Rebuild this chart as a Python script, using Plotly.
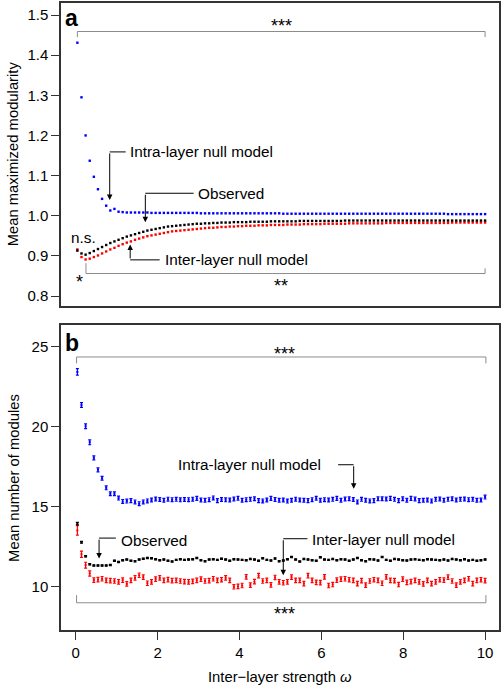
import numpy as np
import plotly.graph_objects as go

# inter-layer strength, 100 values from ~0.04 to 10
omega = np.linspace(0.04, 10.0, 100)

# panel a: mean maximized modularity
mod_intra = [1.431, 1.295, 1.200, 1.137, 1.097, 1.066, 1.042, 1.025, 1.013, 1.017,
             1.010, 1.009, 1.008, 1.008, 1.008, 1.008, 1.008, 1.008, 1.007, 1.007,
             1.007, 1.007, 1.007, 1.007, 1.007, 1.007, 1.007, 1.007, 1.007, 1.007,
             1.006, 1.006, 1.006, 1.006, 1.006, 1.006, 1.006, 1.006, 1.006, 1.006,
             1.006, 1.006, 1.006, 1.006, 1.006, 1.006, 1.006, 1.006, 1.006, 1.006,
             1.005, 1.005, 1.005, 1.005, 1.005, 1.005, 1.005, 1.005, 1.005, 1.005,
             1.005, 1.005, 1.005, 1.005, 1.005, 1.005, 1.005, 1.005, 1.005, 1.005,
             1.005, 1.005, 1.005, 1.005, 1.005, 1.005, 1.005, 1.005, 1.005, 1.005,
             1.005, 1.005, 1.005, 1.005, 1.005, 1.005, 1.005, 1.005, 1.005, 1.005,
             1.004, 1.004, 1.004, 1.004, 1.004, 1.004, 1.004, 1.004, 1.004, 1.004]
mod_obs = [0.913, 0.906, 0.903, 0.907, 0.912, 0.917, 0.922, 0.927, 0.932, 0.936,
           0.940, 0.944, 0.948, 0.951, 0.954, 0.957, 0.960, 0.963, 0.965, 0.967,
           0.969, 0.971, 0.973, 0.974, 0.975, 0.976, 0.977, 0.978, 0.979, 0.980,
           0.980, 0.981, 0.981, 0.982, 0.982, 0.983, 0.983, 0.983, 0.984, 0.984,
           0.984, 0.984, 0.985, 0.985, 0.985, 0.985, 0.985, 0.986, 0.986, 0.986,
           0.986, 0.986, 0.986, 0.986, 0.987, 0.987, 0.987, 0.987, 0.987, 0.987,
           0.987, 0.987, 0.987, 0.987, 0.987, 0.988, 0.988, 0.988, 0.988, 0.988,
           0.988, 0.988, 0.988, 0.988, 0.988, 0.988, 0.988, 0.988, 0.988, 0.988,
           0.988, 0.988, 0.988, 0.988, 0.988, 0.988, 0.988, 0.988, 0.988, 0.988,
           0.988, 0.988, 0.988, 0.988, 0.988, 0.988, 0.988, 0.988, 0.988, 0.988]
mod_inter = [0.916, 0.897, 0.891, 0.893, 0.897, 0.901, 0.906, 0.911, 0.916, 0.920,
             0.925, 0.929, 0.933, 0.936, 0.940, 0.943, 0.946, 0.949, 0.951, 0.953,
             0.955, 0.957, 0.959, 0.961, 0.962, 0.963, 0.964, 0.965, 0.966, 0.967,
             0.968, 0.969, 0.970, 0.970, 0.971, 0.972, 0.972, 0.973, 0.973, 0.974,
             0.974, 0.975, 0.975, 0.975, 0.976, 0.976, 0.976, 0.977, 0.977, 0.977,
             0.977, 0.978, 0.978, 0.978, 0.978, 0.979, 0.979, 0.979, 0.979, 0.979,
             0.980, 0.980, 0.980, 0.980, 0.980, 0.980, 0.981, 0.981, 0.981, 0.981,
             0.981, 0.981, 0.981, 0.981, 0.981, 0.982, 0.982, 0.982, 0.982, 0.982,
             0.982, 0.982, 0.982, 0.982, 0.982, 0.982, 0.982, 0.982, 0.982, 0.982,
             0.982, 0.983, 0.983, 0.983, 0.983, 0.983, 0.983, 0.983, 0.983, 0.983]

# panel b: mean number of modules
nmod_intra = [23.42, 21.35, 20.02, 19.02, 18.05, 17.30, 16.78, 16.18, 15.81, 15.81,
              15.54, 15.33, 15.35, 15.38, 15.30, 15.19, 15.30, 15.36, 15.42, 15.48,
              15.45, 15.40, 15.47, 15.44, 15.46, 15.43, 15.45, 15.44, 15.47, 15.52,
              15.42, 15.40, 15.44, 15.55, 15.38, 15.45, 15.43, 15.42, 15.48, 15.53,
              15.40, 15.44, 15.46, 15.50, 15.38, 15.36, 15.42, 15.52, 15.45, 15.40,
              15.42, 15.35, 15.40, 15.47, 15.42, 15.40, 15.38, 15.44, 15.53, 15.40,
              15.44, 15.42, 15.46, 15.52, 15.40, 15.48, 15.50, 15.45, 15.30, 15.46,
              15.40, 15.36, 15.38, 15.50, 15.50, 15.48, 15.52, 15.46, 15.38, 15.50,
              15.40, 15.52, 15.48, 15.38, 15.40, 15.42, 15.36, 15.46, 15.48, 15.40,
              15.46, 15.50, 15.42, 15.46, 15.48, 15.44, 15.46, 15.40, 15.42, 15.60]
nmod_obs = [13.94, 12.78, 11.90, 11.40, 11.33, 11.33, 11.33, 11.33, 11.36, 11.62,
            11.55, 11.66, 11.70, 11.62, 11.60, 11.70, 11.75, 11.80, 11.78, 11.72,
            11.66, 11.70, 11.62, 11.58, 11.68, 11.72, 11.68, 11.70, 11.72, 11.80,
            11.66, 11.60, 11.70, 11.72, 11.68, 11.75, 11.70, 11.62, 11.72, 11.70,
            11.68, 11.66, 11.74, 11.70, 11.62, 11.78, 11.68, 11.64, 11.76, 11.60,
            11.64, 11.72, 11.86, 11.70, 11.58, 11.74, 11.70, 11.66, 11.62, 11.84,
            11.70, 11.68, 11.74, 11.66, 11.72, 11.70, 11.62, 11.70, 11.80, 11.66,
            11.60, 11.72, 11.70, 11.64, 11.86, 11.68, 11.62, 11.74, 11.70, 11.66,
            11.64, 11.70, 11.72, 11.68, 11.66, 11.72, 11.70, 11.68, 11.66, 11.70,
            11.64, 11.74, 11.70, 11.66, 11.72, 11.64, 11.68, 11.62, 11.66, 11.70]
nmod_inter = [13.52, 12.03, 11.35, 10.83, 10.42, 10.45, 10.50, 10.40, 10.38, 10.36,
              10.30, 10.42, 10.18, 10.40, 10.55, 10.72, 10.60, 10.22, 10.30, 10.48,
              10.55, 10.40, 10.45, 10.38, 10.40, 10.36, 10.32, 10.30, 10.34, 10.40,
              10.48, 10.36, 10.38, 10.50, 10.40, 10.44, 10.56, 10.40, 10.00, 10.02,
              10.08, 10.62, 10.10, 10.32, 10.70, 10.36, 10.40, 10.12, 10.58, 10.30,
              10.25, 10.30, 10.60, 10.40, 10.40, 10.20, 10.70, 10.40, 10.28, 10.26,
              10.62, 10.08, 10.14, 10.42, 10.48, 10.50, 10.44, 10.40, 10.20, 10.38,
              10.10, 10.36, 10.44, 10.40, 10.22, 10.62, 10.40, 10.38, 10.14, 10.48,
              10.28, 10.32, 10.40, 10.30, 10.18, 10.40, 10.20, 10.30, 10.44, 10.42,
              10.60, 10.36, 10.10, 10.30, 10.40, 10.50, 10.20, 10.40, 10.44, 10.38]
err_intra = [0.20, 0.15, 0.15, 0.15] + [0.12] * 96
err_obs = [0.08, 0.05] + [0.04] * 98
err_inter = [0.30, 0.20, 0.18, 0.16] + [0.14] * 96

xticks = [0, 2, 4, 6, 8, 10]
yticks_a = [0.8, 0.9, 1.0, 1.1, 1.2, 1.3, 1.4, 1.5]
yticks_b = [10, 15, 20, 25]

BLUE = "#0000ff"
RED = "#ff0000"
BLACK = "#000000"
GREY = "#8c8c8c"
FONT = "Liberation Sans, Arial, sans-serif"
LBL = 15.3   # annotation text size
STAR = 18    # significance stars

fig = go.Figure()

# 面板 a
for ys, col in [(mod_inter, RED), (mod_obs, BLACK), (mod_intra, BLUE)]:
    fig.add_trace(go.Scatter(x=omega, y=ys, mode="markers",
                             marker=dict(symbol="square", size=2.4, color=col, line_width=0),
                             xaxis="x", yaxis="y", showlegend=False))

# 面板 b
for ys, es, col in [(nmod_inter, err_inter, RED), (nmod_obs, err_obs, BLACK),
                    (nmod_intra, err_intra, BLUE)]:
    fig.add_trace(go.Scatter(x=omega, y=ys, mode="markers",
                             marker=dict(symbol="square", size=2, color=col, line_width=0),
                             error_y=dict(type="data", array=es, color=col,
                                          thickness=1.2, width=1.5),
                             xaxis="x2", yaxis="y2", showlegend=False))

shapes = []
annots = []


def seg(x0, y0, x1, y1, ax, color=GREY, w=1):
    xr, yr = ("x", "y") if ax == "a" else ("x2", "y2")
    shapes.append(dict(type="line", xref=xr, yref=yr, x0=x0, y0=y0, x1=x1, y1=y1,
                       line=dict(color=color, width=w)))


def text(x, y, s, ax, size=LBL, xanchor="center", bold=False):
    xr, yr = ("x", "y") if ax == "a" else ("x2", "y2")
    annots.append(dict(x=x, y=y, xref=xr, yref=yr, text=f"<b>{s}</b>" if bold else s,
                       showarrow=False, xanchor=xanchor, yanchor="middle",
                       font=dict(size=size, color="black", family=FONT)))


def arrow(x, y0, y1, ax):
    # vertical arrow from (x, y0) to tip (x, y1)
    xr, yr = ("x", "y") if ax == "a" else ("x2", "y2")
    annots.append(dict(x=x, y=y1, xref=xr, yref=yr, ax=x, ay=y0, axref=xr, ayref=yr,
                       text="", showarrow=True, arrowhead=2, arrowsize=1.1,
                       arrowwidth=1, arrowcolor="black", standoff=0))


# significance brackets, panel a
seg(0.04, 1.459, 10.0, 1.459, "a")
seg(0.04, 1.459, 0.04, 1.445, "a")
seg(10.0, 1.459, 10.0, 1.445, "a")
text(5.02, 1.4716, "***", "a", size=STAR)
seg(0.25, 0.856, 10.0, 0.856, "a")
seg(0.25, 0.856, 0.25, 0.882, "a")
seg(10.0, 0.856, 10.0, 0.869, "a")
text(5.02, 0.826, "**", "a", size=STAR)
text(0.08, 0.834, "*", "a", size=STAR)
text(0.18, 0.946, "n.s.", "a")
text(-0.3, 1.492, "a", "a", size=23, xanchor="left", bold=True)

# labels with elbow arrows, panel a
text(1.28, 1.159, "Intra-layer null model", "a", xanchor="left")
seg(0.83, 1.159, 1.22, 1.159, "a", color="black")
arrow(0.83, 1.159, 1.039, "a")
text(2.95, 1.056, "Observed", "a", xanchor="left")
seg(1.70, 1.056, 2.88, 1.056, "a", color="black")
arrow(1.70, 1.056, 0.984, "a")
text(2.13, 0.892, "Inter-layer null model", "a", xanchor="left")
seg(1.33, 0.890, 2.05, 0.890, "a", color="black")
arrow(1.33, 0.890, 0.928, "a")

# significance brackets, panel b
seg(0.02, 24.35, 10.02, 24.35, "b")
seg(0.02, 24.35, 0.02, 23.95, "b")
seg(10.02, 24.35, 10.02, 23.95, "b")
text(5.1, 24.51, "***", "b", size=STAR)
seg(0.02, 9.0, 10.02, 9.0, "b")
seg(0.02, 9.0, 0.02, 9.48, "b")
seg(10.02, 9.0, 10.02, 9.48, "b")
text(5.1, 8.32, "***", "b", size=STAR)
text(-0.3, 25.25, "b", "b", size=23, xanchor="left", bold=True)

# labels with elbow arrows, panel b
text(2.45, 17.62, "Intra-layer null model", "b", xanchor="left")
seg(6.41, 17.62, 6.79, 17.62, "b", color="black")
arrow(6.79, 17.62, 16.12, "b")
text(1.06, 12.9, "Observed", "b", xanchor="left")
seg(0.57, 13.04, 0.98, 13.04, "b", color="black")
arrow(0.57, 13.04, 11.76, "b")
text(5.73, 12.95, "Inter-layer null model", "b", xanchor="left")
seg(5.07, 13.0, 5.66, 13.0, "b", color="black")
arrow(5.07, 13.0, 10.72, "b")

# axis titles as paper annotations
title_font = dict(size=14.8, family=FONT, color="black")
annots.append(dict(x=-0.109, y=0.759, xref="paper", yref="paper", text="Mean maximized modularity",
                   textangle=-90, showarrow=False, xanchor="center", yanchor="middle",
                   font=title_font))
annots.append(dict(x=-0.109, y=0.243, xref="paper", yref="paper", text="Mean number of modules",
                   textangle=-90, showarrow=False, xanchor="center", yanchor="middle",
                   font=title_font))
annots.append(dict(x=0.501, y=-0.0747, xref="paper", yref="paper",
                   text="Inter\u2212layer strength <i>\u03c9</i>", showarrow=False,
                   xanchor="center", yanchor="middle", font=title_font))

frame = dict(showline=True, linecolor="#333333", linewidth=1.5, mirror=True,
             showgrid=False, zeroline=False)
tickfont = dict(size=15, family=FONT, color="black")

fig.update_layout(
    width=502, height=685,
    margin=dict(l=61, r=2, t=1, b=55),
    paper_bgcolor="white", plot_bgcolor="white",
    xaxis=dict(domain=[0, 1], anchor="y", range=[-0.36, 10.34], showticklabels=False,
               ticks="", **frame),
    yaxis=dict(domain=[0.5167, 1], anchor="x", range=[0.775, 1.53], tickvals=yticks_a,
               tickformat=".1f", ticks="outside", ticklen=8, tickcolor="#333333",
               tickfont=tickfont, **frame),
    xaxis2=dict(domain=[0, 1], anchor="y2", range=[-0.36, 10.34], tickvals=xticks,
                ticks="outside", ticklen=8, tickcolor="#333333", tickfont=tickfont, **frame),
    yaxis2=dict(domain=[0, 0.486], anchor="x2", range=[7.30, 26.33], tickvals=yticks_b,
                ticks="outside", ticklen=8, tickcolor="#333333", tickfont=tickfont, **frame),
    shapes=shapes,
    annotations=annots,
)

# remove the default page margin so the 502x685 figure fills the window exactly
fig.write_html("out.html", config={"displayModeBar": False},
               post_script="document.body.style.margin='0px';")
